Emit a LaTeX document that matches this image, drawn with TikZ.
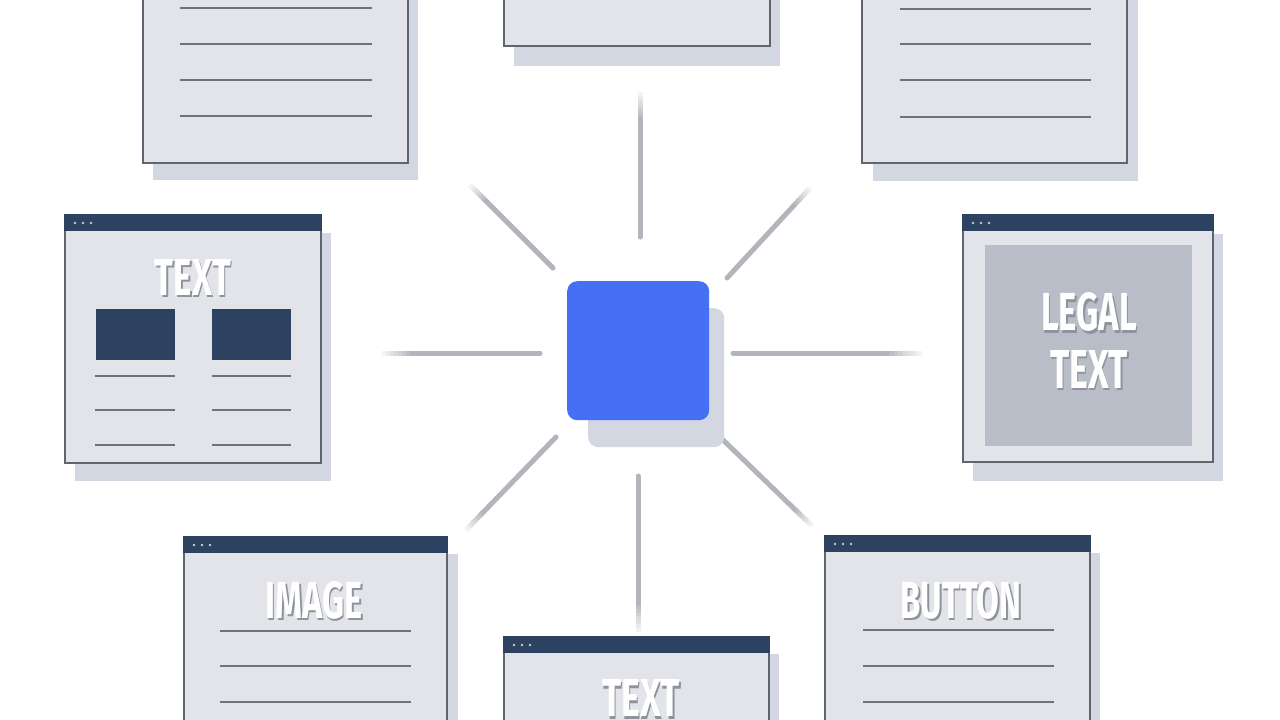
\documentclass[tikz,border=0pt]{standalone}
\usepackage{fontspec}
\setmainfont{Fira Sans}
\usepackage{graphicx}
\usetikzlibrary{calc}
\definecolor{winbg}{HTML}{E2E4E9}
\definecolor{framec}{HTML}{5F6471}
\definecolor{shadowc}{HTML}{D3D7E1}
\definecolor{navy}{HTML}{2C4260}
\definecolor{linec}{HTML}{6E727B}
\definecolor{legalc}{HTML}{B8BDC8}
\definecolor{hubc}{HTML}{4670F4}
\definecolor{rayc}{HTML}{B2B5BB}
\definecolor{txtsh}{HTML}{8F949C}
\definecolor{dotc}{HTML}{C8CDD6}
\tikzset{
  winshadow/.style={fill=shadowc, draw=none, anchor=north west, inner sep=0pt, outer sep=0pt},
  winframe/.style={fill=winbg, draw=framec, line width=1.3pt, anchor=north west, inner sep=0pt, outer sep=0pt},
  titlebar/.style={fill=navy},
  tline/.style={draw=linec, line width=2pt},
  wdot/.style={fill=dotc, circle, inner sep=0pt, minimum size=2.6pt},
  ray/.style={line width=5pt, draw=rayc},
  lbl/.style={inner sep=0pt, text=white, font=\bfseries},
  lblsh/.style={inner sep=0pt, text=txtsh, font=\bfseries},
}
\newcommand\mylabel[5]{% name, x, y, w, h, text
}
\begin{document}
\begin{tikzpicture}[x=1pt,y=-1pt]
\useasboundingbox (0,0) rectangle (1280,720);
\clip (0,0) rectangle (1280,720);
\fill[white] (0,0) rectangle (1280,720);

% ---------- rays ----------
\coordinate (rNi) at (640,237);  \coordinate (rNo) at (640,92);
\coordinate (rSi) at (638,476);  \coordinate (rSo) at (638,632);
\coordinate (rWi) at (540,353);  \coordinate (rWo) at (382,353);
\coordinate (rEi) at (733,353);  \coordinate (rEo) at (922,353);
\coordinate (rNWi) at (553,268); \coordinate (rNWo) at (470,185);
\coordinate (rNEi) at (727,278); \coordinate (rNEo) at (810,188);
\coordinate (rSWi) at (556,437); \coordinate (rSWo) at (466,530);
\coordinate (rSEi) at (720,437); \coordinate (rSEo) at (812,526);
\foreach \r in {N,S,W,E,NW,NE,SW,SE}{
  \draw[ray, line cap=round] (r\r i) -- ($(r\r i)!0.8!(r\r o)$);
  \foreach \k in {0,...,7}{
    \pgfmathsetmacro\a{0.8+0.025*\k}
    \pgfmathsetmacro\b{\a+0.027}
    \pgfmathtruncatemacro\c{100-12*\k}
    \draw[ray, draw=rayc!\c!white] ($(r\r i)!\a!(r\r o)$) -- ($(r\r i)!\b!(r\r o)$);
  }
}

% ---------- hub ----------
\node[fill=shadowc, rounded corners=10pt, minimum width=136pt, minimum height=139pt, anchor=north west, inner sep=0pt] (hubshadow) at (588,308) {};
\node[fill=hubc, rounded corners=10pt, minimum width=142pt, minimum height=139pt, anchor=north west, inner sep=0pt] (hub) at (567,281) {};

% ---------- top-left window ----------
\node[winshadow, minimum width=265pt, minimum height=263pt] (wTLs) at (153,-83) {};
\node[winframe, minimum width=265pt, minimum height=263pt] (wTL) at (143,-100) {};
\foreach \y in {8,44,80,116}{ \draw[tline] (180,\y) -- (372,\y); }

% ---------- top-centre window ----------
\node[winshadow, minimum width=266pt, minimum height=146pt] (wTCs) at (514,-80) {};
\node[winframe, minimum width=266pt, minimum height=146pt] (wTC) at (504,-100) {};

% ---------- top-right window ----------
\node[winshadow, minimum width=265pt, minimum height=263pt] (wTRs) at (873,-82) {};
\node[winframe, minimum width=265pt, minimum height=263pt] (wTR) at (862,-100) {};
\foreach \y in {9,44,80,117}{ \draw[tline] (900,\y) -- (1091,\y); }

% ---------- left window ----------
\node[winshadow, minimum width=256pt, minimum height=248pt] (wLs) at (75,233) {};
\node[winframe, minimum width=256pt, minimum height=248pt] (wL) at (65,215) {};
\fill[titlebar] ([xshift=-0.65pt,yshift=0.65pt]wL.north west) rectangle ([xshift=0.65pt,yshift=-16pt]wL.north east);
\foreach \d in {10,18,26}{ \node[wdot] at ($(wL.north west)+(\d,8)$) {}; }
\fill[navy] (96,309) rectangle (175,360);
\fill[navy] (212,309) rectangle (291,360);
\foreach \y in {376,410,445}{ \draw[tline] (95,\y) -- (175,\y); \draw[tline] (212,\y) -- (291,\y); }
\node[lblsh] at (194.5,279.5) {\resizebox{76pt}{36pt}{TEXT}};
\node[lbl] (tL) at (193,277) {\resizebox{76pt}{36pt}{TEXT}};

% ---------- right window ----------
\node[winshadow, minimum width=250pt, minimum height=247pt] (wRs) at (973,234) {};
\node[winframe, minimum width=250pt, minimum height=247pt] (wR) at (963,215) {};
\fill[titlebar] ([xshift=-0.65pt,yshift=0.65pt]wR.north west) rectangle ([xshift=0.65pt,yshift=-16pt]wR.north east);
\foreach \d in {10,18,26}{ \node[wdot] at ($(wR.north west)+(\d,8)$) {}; }
\fill[legalc] (985,245) rectangle (1192,446);
\node[lblsh] at (1090.5,314.5) {\resizebox{96pt}{38pt}{LEGAL}};
\node[lbl] (tLegal) at (1089,312) {\resizebox{96pt}{38pt}{LEGAL}};
\node[lblsh] at (1090.5,371.5) {\resizebox{78pt}{38pt}{TEXT}};
\node[lbl] (tLegal2) at (1089,369) {\resizebox{78pt}{38pt}{TEXT}};

% ---------- bottom-left window ----------
\node[winshadow, minimum width=263pt, minimum height=283pt] (wBLs) at (195,554) {};
\node[winframe, minimum width=263pt, minimum height=283pt] (wBL) at (184,537) {};
\fill[titlebar] ([xshift=-0.65pt,yshift=0.65pt]wBL.north west) rectangle ([xshift=0.65pt,yshift=-16pt]wBL.north east);
\foreach \d in {10,18,26}{ \node[wdot] at ($(wBL.north west)+(\d,8)$) {}; }
\foreach \y in {631,666,702}{ \draw[tline] (220,\y) -- (411,\y); }
\node[lblsh] at (315.5,602.5) {\resizebox{97pt}{37pt}{IMAGE}};
\node[lbl] (tImage) at (314,600) {\resizebox{97pt}{37pt}{IMAGE}};

% ---------- bottom-centre window ----------
\node[winshadow, minimum width=265pt, minimum height=183pt] (wBCs) at (514,654) {};
\node[winframe, minimum width=265pt, minimum height=183pt] (wBC) at (504,637) {};
\fill[titlebar] ([xshift=-0.65pt,yshift=0.65pt]wBC.north west) rectangle ([xshift=0.65pt,yshift=-16pt]wBC.north east);
\foreach \d in {10,18,26}{ \node[wdot] at ($(wBC.north west)+(\d,8)$) {}; }
\node[lblsh] at (642.5,700.5) {\resizebox{78pt}{37pt}{TEXT}};
\node[lbl] (tBC) at (641,698) {\resizebox{78pt}{37pt}{TEXT}};

% ---------- bottom-right window ----------
\node[winshadow, minimum width=265pt, minimum height=284pt] (wBRs) at (835,553) {};
\node[winframe, minimum width=265pt, minimum height=284pt] (wBR) at (825,536) {};
\fill[titlebar] ([xshift=-0.65pt,yshift=0.65pt]wBR.north west) rectangle ([xshift=0.65pt,yshift=-16pt]wBR.north east);
\foreach \d in {10,18,26}{ \node[wdot] at ($(wBR.north west)+(\d,8)$) {}; }
\foreach \y in {630,666,702}{ \draw[tline] (863,\y) -- (1054,\y); }
\node[lblsh] at (962.5,602.5) {\resizebox{121pt}{37pt}{BUTTON}};
\node[lbl] (tButton) at (961,600) {\resizebox{121pt}{37pt}{BUTTON}};
\end{tikzpicture}
\end{document}
